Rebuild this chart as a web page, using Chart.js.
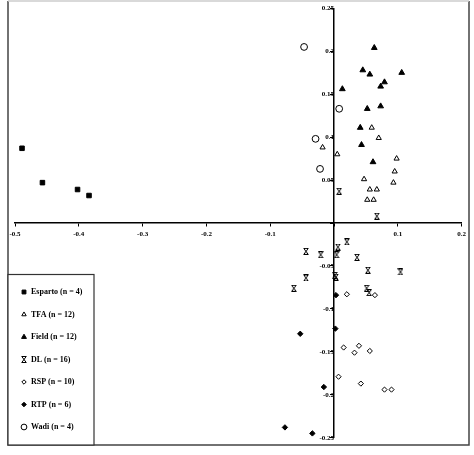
<!DOCTYPE html>
<html>
<head>
<meta charset="utf-8">
<script src="https://cdn.jsdelivr.net/npm/chart.js@4.4.1/dist/chart.umd.min.js"></script>
<style>
    body { margin: 0; background: #fff; }
    canvas { display: block; }
</style>
</head>
<body>
<canvas id="pcaChart" width="474" height="455"></canvas>
<script>
    // Scores, one pair of arrays per group
    const espartoX = [-0.489, -0.457, -0.402, -0.384];
    const espartoY = [0.087, 0.047, 0.039, 0.032];

    const tfaX = [0.059, 0.070, -0.018, 0.005, 0.098, 0.095, 0.093, 0.047, 0.056, 0.067, 0.052, 0.062];
    const tfaY = [0.111, 0.099, 0.088, 0.080, 0.075, 0.060, 0.047, 0.051, 0.039, 0.039, 0.027, 0.027];

    const fieldX = [0.063, 0.013, 0.045, 0.056, 0.079, 0.073, 0.106, 0.052, 0.073, 0.041, 0.043, 0.061];
    const fieldY = [0.204, 0.156, 0.178, 0.173, 0.164, 0.159, 0.175, 0.133, 0.136, 0.111, 0.091, 0.071];

    const dlX = [0.008, 0.067, 0.020, 0.006, -0.044, -0.021, 0.004, 0.036, 0.053, 0.104, 0.001, 0.003, -0.044, -0.063, 0.051, 0.055];
    const dlY = [0.037, 0.008, -0.022, -0.028, -0.033, -0.037, -0.037, -0.040, -0.055, -0.057, -0.061, -0.063, -0.064, -0.076, -0.076, -0.081];

    const rspX = [0.020, 0.064, 0.015, 0.039, 0.032, 0.056, 0.007, 0.042, 0.079, 0.090];
    const rspY = [-0.083, -0.084, -0.145, -0.143, -0.151, -0.149, -0.179, -0.187, -0.194, -0.194];

    const rtpX = [0.003, 0.002, -0.053, -0.016, -0.077, -0.034];
    const rtpY = [-0.084, -0.123, -0.129, -0.191, -0.238, -0.245];

    const wadiX = [-0.047, 0.008, -0.029, -0.022];
    const wadiY = [0.205, 0.133, 0.098, 0.063];

    const groupLabels = ['Esparto (n = 4)', 'TFA (n = 12)', 'Field (n = 12)', 'DL (n = 16)',
        'RSP (n = 10)', 'RTP (n = 6)', 'Wadi (n = 4)'];

    // Axis ticks
    const xTickValues = [-0.5, -0.4, -0.3, -0.2, -0.1, 0, 0.1, 0.2];
    const xTickLabels = ['-0.5', '-0.4', '-0.3', '-0.2', '-0.1', '', '0.1', '0.2'];
    const yTickValues = [-0.25, -0.2, -0.15, -0.1, -0.05, 0, 0.05, 0.1, 0.15, 0.2, 0.25];
    const yTickLabels = ['-0.25', '-0.2', '-0.15', '-0.1', '-0.05', '', '0.05', '0.1', '0.15', '0.2', '0.25'];

    const tickFont = { family: '"Liberation Serif", serif', size: 7, weight: 'bold' };

    function toPoints(xs, ys) {
        return xs.map((x, i) => ({ x: x, y: ys[i] }));
    }

    // the "X with bars" marker used for DL
    function makeBarredX() {
        const c = document.createElement('canvas');
        c.width = 6;
        c.height = 7;
        const g = c.getContext('2d');
        g.strokeStyle = '#000';
        g.lineWidth = 1;
        g.beginPath();
        g.moveTo(0.5, 0.5); g.lineTo(5.5, 0.5);
        g.moveTo(0.5, 6.5); g.lineTo(5.5, 6.5);
        g.moveTo(1, 0.8); g.lineTo(5, 6.2);
        g.moveTo(5, 0.8); g.lineTo(1, 6.2);
        g.stroke();
        return c;
    }
    const barredX = makeBarredX();

    function group(label, xs, ys, style, fill, radius) {
        return {
            label: label,
            data: toPoints(xs, ys),
            pointStyle: style,
            pointRadius: radius,
            pointHoverRadius: radius,
            backgroundColor: fill,
            borderColor: '#000',
            borderWidth: 1,
            showLine: false
        };
    }

    const datasets = [
        group(groupLabels[0], espartoX, espartoY, 'rect', '#000', 3.2),
        group(groupLabels[1], tfaX, tfaY, 'triangle', '#fff', 3),
        group(groupLabels[2], fieldX, fieldY, 'triangle', '#000', 3.3),
        group(groupLabels[3], dlX, dlY, barredX, '#000', 3),
        group(groupLabels[4], rspX, rspY, 'rectRot', '#fff', 2.6),
        group(groupLabels[5], rtpX, rtpY, 'rectRot', '#000', 2.7),
        group(groupLabels[6], wadiX, wadiY, 'circle', '#fff', 3.4)
    ];

    // outer frame of the figure
    const framePlugin = {
        id: 'frame',
        afterDraw(chart) {
            const ctx = chart.ctx;
            ctx.save();
            ctx.lineWidth = 1.5;
            ctx.strokeStyle = '#444';
            ctx.beginPath();
            ctx.moveTo(8, 1);
            ctx.lineTo(8, 445);
            ctx.lineTo(469, 445);
            ctx.lineTo(469, 1);
            ctx.stroke();
            ctx.strokeStyle = '#ccc';
            ctx.beginPath();
            ctx.moveTo(8, 1);
            ctx.lineTo(469, 1);
            ctx.stroke();
            ctx.restore();
        }
    };

    // boxed legend in the lower left corner
    const legendPlugin = {
        id: 'boxLegend',
        afterDraw(chart) {
            const ctx = chart.ctx;
            ctx.save();
            ctx.fillStyle = '#fff';
            ctx.fillRect(8, 274, 86, 171);
            ctx.lineWidth = 1.2;
            ctx.strokeStyle = '#333';
            ctx.strokeRect(8, 274.5, 86, 170.5);
            chart.data.datasets.forEach((ds, i) => {
                const y = 292 + i * 22.5;
                ctx.fillStyle = ds.backgroundColor;
                ctx.strokeStyle = '#000';
                ctx.lineWidth = 1;
                Chart.helpers.drawPoint(ctx, {
                    pointStyle: ds.pointStyle,
                    radius: ds.pointRadius * 0.85,
                    rotation: 0,
                    borderWidth: 1
                }, 24, y);
                ctx.fillStyle = '#000';
                ctx.font = 'bold 8px "Liberation Serif", serif';
                ctx.textAlign = 'left';
                ctx.textBaseline = 'middle';
                ctx.fillText(ds.label, 31, y);
            });
            ctx.restore();
        }
    };

    new Chart(document.getElementById('pcaChart'), {
        type: 'scatter',
        data: { datasets: datasets },
        options: {
            responsive: false,
            animation: false,
            layout: { padding: { left: 15, right: 12.3, top: 8.3, bottom: 17.3 } },
            plugins: {
                legend: { display: false },
                tooltip: { enabled: false }
            },
            scales: {
                x: {
                    type: 'linear',
                    min: -0.5,
                    max: 0.2,
                    position: { y: 0 },
                    afterBuildTicks: s => { s.ticks = xTickValues.map(v => ({ value: v })); },
                    border: { display: true, color: '#000', width: 1.5 },
                    grid: { display: true, drawOnChartArea: false, drawTicks: true, tickLength: 3, color: '#000' },
                    ticks: {
                        color: '#000',
                        font: tickFont,
                        padding: 4,
                        maxRotation: 0,
                        autoSkip: false,
                        callback: (v, i) => xTickLabels[i]
                    }
                },
                y: {
                    type: 'linear',
                    min: -0.25,
                    max: 0.25,
                    position: { x: 0 },
                    afterBuildTicks: s => { s.ticks = yTickValues.map(v => ({ value: v })); },
                    border: { display: true, color: '#000', width: 1.5 },
                    grid: { display: true, drawOnChartArea: false, drawTicks: true, tickLength: 3, color: '#000' },
                    ticks: {
                        color: '#000',
                        font: tickFont,
                        padding: 3,
                        autoSkip: false,
                        callback: (v, i) => yTickLabels[i]
                    }
                }
            }
        },
        plugins: [framePlugin, legendPlugin]
    });
</script>
</body>
</html>
